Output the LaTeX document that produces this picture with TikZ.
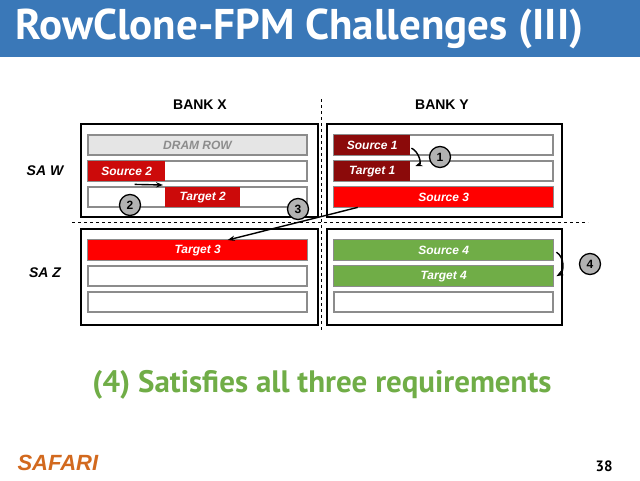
\documentclass[tikz,border=0pt]{standalone}
\usepackage{fontspec}
\setmainfont{Liberation Sans}
\newfontfamily\titlefont{PT Sans}
\usetikzlibrary{positioning,arrows.meta}
\definecolor{slideblue}{HTML}{3A78B8}
\definecolor{rowgray}{HTML}{8C8C8C}
\definecolor{darkred}{HTML}{8B0A0A}
\definecolor{midred}{HTML}{CC0A0A}
\definecolor{brightred}{HTML}{FF0000}
\definecolor{rowgreen}{HTML}{70AD47}
\definecolor{safari}{HTML}{D2691E}
\begin{document}
\begin{tikzpicture}[x=1pt,y=-1pt,
    bank/.style={draw, line width=1.8pt},
    dramrow/.style={draw=rowgray, line width=1.8pt, fill=white},
    cell/.style={inner sep=0pt, text=white, font=\bfseries\itshape\fontsize{12}{14}\selectfont},
    stepnum/.style={circle, draw, line width=1.3pt, fill=white!70!black,
      minimum size=21pt, inner sep=0pt, font=\bfseries\fontsize{12}{14}\selectfont},
    copyarrow/.style={-{Stealth[length=7pt]}, line width=1.4pt}]
  \useasboundingbox (0,0) rectangle (640,480);

  % Title bar
  \fill[slideblue] (0,0) rectangle (640,57);
  \node[anchor=west, text=white, font=\titlefont\bfseries\fontsize{43}{48}\selectfont]
    (title) at (12,29) {RowClone-FPM Challenges (III)};

  % Bank and subarray labels
  \node[font=\bfseries\fontsize{14}{16}\selectfont] (bankx) at (200,105) {BANK X};
  \node[font=\bfseries\fontsize{14}{16}\selectfont] (banky) at (442,105) {BANK Y};
  \node[font=\bfseries\itshape\fontsize{14}{16}\selectfont] (saw) at (45,171) {SA W};
  \node[font=\bfseries\itshape\fontsize{14}{16}\selectfont] (saz) at (45,273) {SA Z};

  % Divider lines
  \draw[dashed, line width=0.9pt] (321,99) -- (321,332);
  \draw[dashed, line width=0.9pt] (72,222) -- (588,222);

  % Banks
  \draw[bank] (81,124) rectangle (318,217);
  \draw[bank] (327,124) rectangle (562,217);
  \draw[bank] (81,229) rectangle (318,325);
  \draw[bank] (327,229) rectangle (562,325);

  % Rows
  \foreach \x in {88,334} {
    \foreach \y in {135,161,187,240,266,292}
      \draw[dramrow] (\x,\y) rectangle ++(219,20);
  }
  \draw[dramrow, fill=white!90!black] (88,135) rectangle ++(219,20);
  \node[cell, text=rowgray] (dramrow) at (197.5,145) {DRAM ROW};

  % Copied rows
  \node[cell, fill=midred, minimum width=77pt, minimum height=20pt, anchor=north west] (src2) at (88,161) {Source 2};
  \node[cell, fill=midred, minimum width=75pt, minimum height=20pt, anchor=north west] (tgt2) at (165,187) {Target 2};
  \node[cell, fill=darkred, minimum width=76pt, minimum height=20pt, anchor=north west] (src1) at (334,135) {Source 1};
  \node[cell, fill=darkred, minimum width=76pt, minimum height=20pt, anchor=north west] (tgt1) at (334,161) {Target 1};
  \node[cell, fill=brightred, minimum width=219pt, minimum height=20pt, anchor=north west] (src3) at (334,187) {Source 3};
  \node[cell, fill=brightred, minimum width=219pt, minimum height=20pt, anchor=north west] (tgt3) at (88,240) {Target 3};
  \node[cell, fill=rowgreen, minimum width=219pt, minimum height=20pt, anchor=north west] (src4) at (334,240) {Source 4};
  \node[cell, fill=rowgreen, minimum width=219pt, minimum height=20pt, anchor=north west] (tgt4) at (334,266) {Target 4};

  % Step markers
  \node[stepnum] (one) at (440,157) {1};
  \node[stepnum] (two) at (130,205) {2};
  \node[stepnum] (three) at (298,209) {3};
  \node[stepnum] (four) at (590,264) {4};

  % Copy arrows
  \draw[copyarrow] ([xshift=1pt,yshift=-3pt]src1.east) to[out=-20, in=20] ([xshift=5pt,yshift=-5pt]tgt1.north east);
  \draw[copyarrow] ([xshift=8pt,yshift=-3pt]src2.south) -- ([xshift=-2pt,yshift=2pt]tgt2.north west);
  \draw[copyarrow] ([xshift=-86pt]src3.south) -- ([xshift=30pt]tgt3.north);
  \draw[copyarrow] ([xshift=3pt,yshift=-2pt]src4.east) to[out=-30, in=30] ([xshift=3pt,yshift=0pt]tgt4.east);

  % Bottom line
  \node[text=rowgreen, font=\titlefont\bfseries\fontsize{31}{36}\selectfont] (summary) at (322,385) {(4) Satisfies all three requirements};
  \node[anchor=west, text=safari, font=\bfseries\itshape\fontsize{22}{26}\selectfont] (safarilogo) at (14,463) {SAFARI};
  \node[font=\titlefont\bfseries\fontsize{15}{18}\selectfont] (pagenum) at (604,466) {38};
\end{tikzpicture}
\end{document}
